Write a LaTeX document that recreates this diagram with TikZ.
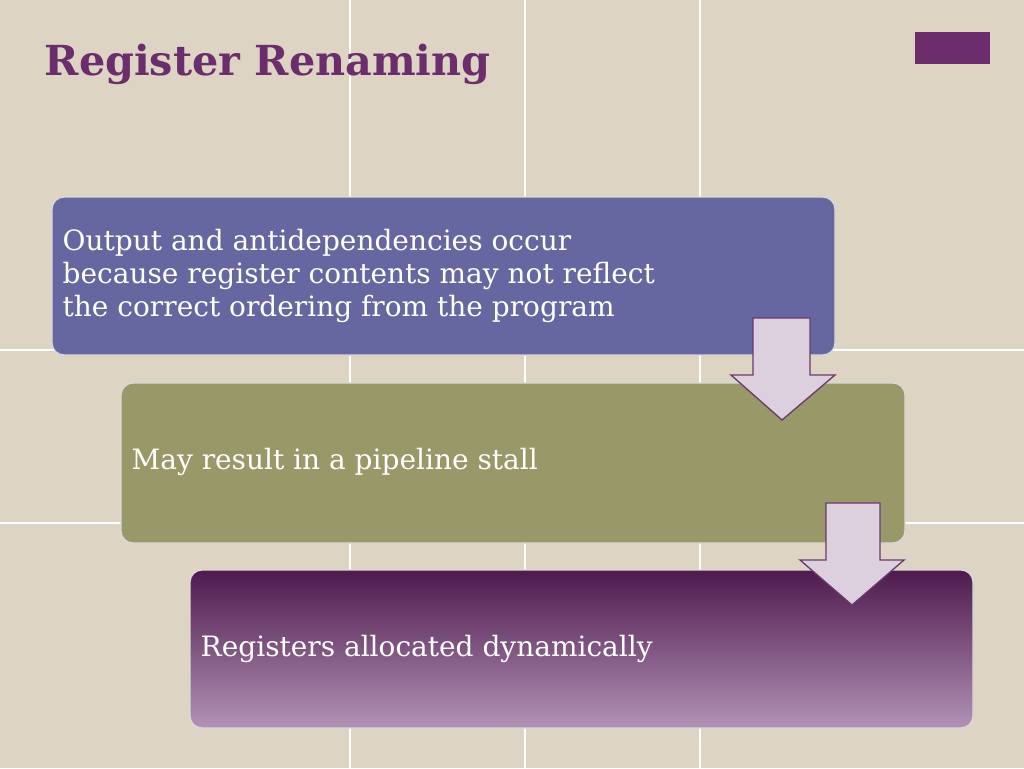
\documentclass[tikz,border=0pt]{standalone}
\usepackage{fontspec}
\setmainfont{DejaVu Serif}
\begin{document}
\begin{tikzpicture}[x=0.75pt,y=-0.75pt,
  box/.style={rounded corners=9pt,draw=black!15,line width=1pt},
  txt/.style={text=white,font=\fontsize{21}{25}\selectfont,align=left,anchor=west},
  barrow/.style={fill=arrowfill,draw=arrowline,line width=1pt,line join=miter}]
\definecolor{bg}{HTML}{DDD4C4}
\definecolor{titlec}{HTML}{6B2D6B}
\definecolor{boxa}{HTML}{6667A0}
\definecolor{boxb}{HTML}{989868}
\definecolor{boxct}{HTML}{4E1A4E}
\definecolor{boxcb}{HTML}{B292B5}
\definecolor{arrowfill}{HTML}{DCD0DE}
\definecolor{arrowline}{HTML}{6B3A6B}
\useasboundingbox (0,0) rectangle (1024,768);
\fill[bg] (0,0) rectangle (1024,768);
\foreach \x in {350,525,700} \draw[white,line width=1pt] (\x,0) -- (\x,768);
\foreach \y in {350,523} \draw[white,line width=1pt] (0,\y) -- (1024,\y);
\node[anchor=west,text=titlec,font=\fontsize{31}{38}\selectfont\bfseries] (title) at (40,64) {Register Renaming};
\fill[titlec] (915,32) rectangle (990,64);
\fill[boxa,box] (52,197) rectangle (835,355);
\fill[boxb,box] (121,383) rectangle (905,543);
\shade[box,top color=boxct,bottom color=boxcb] (190,570) rectangle (973,728);
\node[txt] (t1) at (58,276) {Output and antidependencies occur\\because register contents may not reflect\\the correct ordering from the program};
\node[txt] (t2) at (127,462) {May result in a pipeline stall};
\node[txt] (t3) at (196,649) {Registers allocated dynamically};
\draw[barrow] (753,318) -- (810,318) -- (810,375) -- (835,375) -- (782,420) -- (731,375) -- (753,375) -- cycle;
\draw[barrow] (826,503) -- (880,503) -- (880,560) -- (904,560) -- (852,605) -- (800,560) -- (826,560) -- cycle;
\end{tikzpicture}
\end{document}
